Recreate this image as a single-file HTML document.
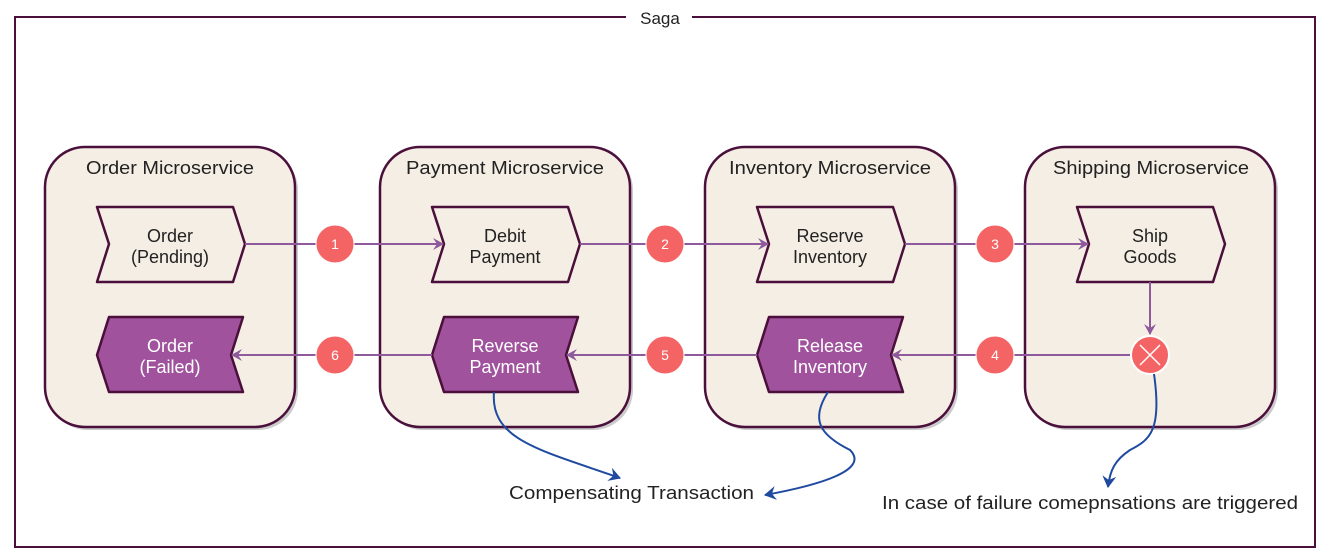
<!DOCTYPE html>
<html><head><meta charset="utf-8"><style>
html,body{margin:0;padding:0;background:#fff;width:1326px;height:558px;overflow:hidden}
text{font-family:"Liberation Sans",sans-serif}
</style></head><body>
<svg width="1326" height="558" viewBox="0 0 1326 558" xmlns="http://www.w3.org/2000/svg">
<defs>
<marker id="pa" markerWidth="12" markerHeight="12" refX="10" refY="6" orient="auto" markerUnits="userSpaceOnUse"><path d="M0,0 L11,6 L0,12 L4,6 Z" fill="#8e5a9c"/></marker>
<marker id="ba" markerWidth="14" markerHeight="14" refX="11" refY="7" orient="auto" markerUnits="userSpaceOnUse"><path d="M0,0 L12,7 L0,14 L4,7 Z" fill="#1f4aa0"/></marker>
</defs>
<rect x="15" y="17" width="1300" height="530" fill="none" stroke="#4a0f3a" stroke-width="2"/>
<rect x="626" y="8" width="66" height="18" fill="#fff"/>
<text x="660" y="24" font-size="17" text-anchor="middle" fill="#222">Saga</text>

<g stroke="#4a0f3a" stroke-width="2.5" fill="#f5eee4">
<rect x="48" y="150" width="250" height="280" rx="40" fill="#ccc" stroke="none"/>
<rect x="383" y="150" width="250" height="280" rx="40" fill="#ccc" stroke="none"/>
<rect x="708" y="150" width="250" height="280" rx="40" fill="#ccc" stroke="none"/>
<rect x="1028" y="150" width="250" height="280" rx="40" fill="#ccc" stroke="none"/>
<rect x="45" y="147" width="250" height="280" rx="40"/>
<rect x="380" y="147" width="250" height="280" rx="40"/>
<rect x="705" y="147" width="250" height="280" rx="40"/>
<rect x="1025" y="147" width="250" height="280" rx="40"/>
</g>
<g font-size="18" fill="#222" text-anchor="middle">
<text x="170" y="174" textLength="168" lengthAdjust="spacingAndGlyphs">Order Microservice</text>
<text x="505" y="174" textLength="198" lengthAdjust="spacingAndGlyphs">Payment Microservice</text>
<text x="830" y="174" textLength="202" lengthAdjust="spacingAndGlyphs">Inventory Microservice</text>
<text x="1151" y="174" textLength="196" lengthAdjust="spacingAndGlyphs">Shipping Microservice</text>
</g>

<g stroke="#4a0f3a" stroke-width="2.5" stroke-linejoin="round">
<g fill="#f5eee4">
<polygon points="97,207 233,207 245,244 233,282 97,282 109,244"/>
<polygon points="432,207 568,207 580,244 568,282 432,282 444,244"/>
<polygon points="757,207 893,207 905,244 893,282 757,282 769,244"/>
<polygon points="1077,207 1213,207 1225,244 1213,282 1077,282 1089,244"/>
</g>
<g fill="#a0529d">
<polygon points="109,317 243,317 231,355 243,392 109,392 97,355"/>
<polygon points="444,317 578,317 566,355 578,392 444,392 432,355"/>
<polygon points="769,317 903,317 891,355 903,392 769,392 757,355"/>
</g>
</g>
<g font-size="18" text-anchor="middle" fill="#222">
<text x="170" y="242">Order</text><text x="170" y="263">(Pending)</text>
<text x="505" y="242">Debit</text><text x="505" y="263">Payment</text>
<text x="830" y="242">Reserve</text><text x="830" y="263">Inventory</text>
<text x="1150" y="242">Ship</text><text x="1150" y="263">Goods</text>
</g>
<g font-size="18" text-anchor="middle" fill="#fff">
<text x="170" y="352">Order</text><text x="170" y="373">(Failed)</text>
<text x="505" y="352">Reverse</text><text x="505" y="373">Payment</text>
<text x="830" y="352">Release</text><text x="830" y="373">Inventory</text>
</g>

<g stroke="#8e5a9c" stroke-width="2" fill="none">
<line x1="245" y1="244" x2="443" y2="244" marker-end="url(#pa)"/>
<line x1="580" y1="244" x2="768" y2="244" marker-end="url(#pa)"/>
<line x1="905" y1="244" x2="1088" y2="244" marker-end="url(#pa)"/>
<line x1="1150" y1="282" x2="1150" y2="334" marker-end="url(#pa)"/>
<line x1="1132" y1="355" x2="892" y2="355" marker-end="url(#pa)"/>
<line x1="757" y1="355" x2="567" y2="355" marker-end="url(#pa)"/>
<line x1="432" y1="355" x2="232" y2="355" marker-end="url(#pa)"/>
</g>
<g fill="#f46464" stroke="#fff" stroke-width="1">
<circle cx="335" cy="244" r="19"/><circle cx="665" cy="244" r="19"/><circle cx="995" cy="244" r="19"/>
<circle cx="335" cy="355" r="19"/><circle cx="665" cy="355" r="19"/><circle cx="995" cy="355" r="19"/>
<circle cx="1150" cy="355" r="19" stroke-width="2"/>
</g>
<path d="M1140,345 L1160,365 M1160,345 L1140,365" stroke="#fff" stroke-width="1.5"/>
<g font-size="14" fill="#fff" text-anchor="middle">
<text x="335" y="249">1</text><text x="665" y="249">2</text><text x="995" y="249">3</text>
<text x="335" y="360">6</text><text x="665" y="360">5</text><text x="995" y="360">4</text>
</g>

<g stroke="#1f4aa0" stroke-width="2" fill="none">
<path d="M494,392 C490,440 540,450 620,478" marker-end="url(#ba)"/>
<path d="M828,392 C810,420 820,435 850,450 C870,470 820,485 765,495" marker-end="url(#ba)"/>
<path d="M1154,374 C1162,430 1150,440 1130,450 C1115,460 1110,470 1108,487" marker-end="url(#ba)"/>
</g>
<text x="509" y="499" font-size="18" fill="#222" textLength="245" lengthAdjust="spacingAndGlyphs">Compensating Transaction</text>
<text x="882" y="509" font-size="18" fill="#222" textLength="416" lengthAdjust="spacingAndGlyphs">In case of failure comepnsations are triggered</text>
</svg>
</body></html>
